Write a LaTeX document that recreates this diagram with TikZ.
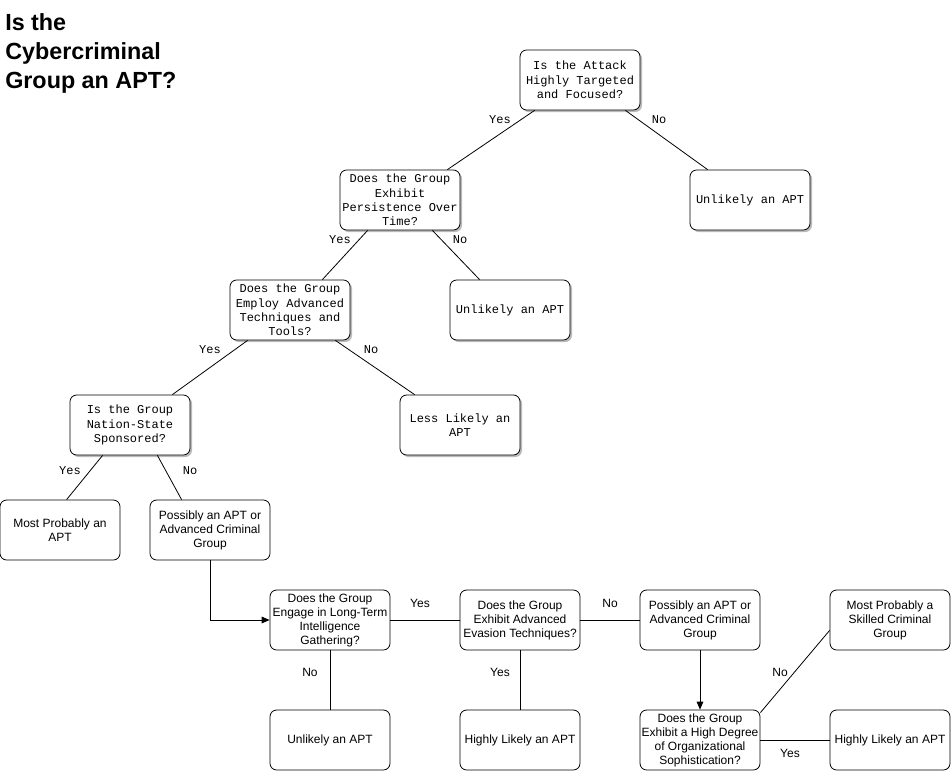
\documentclass[tikz,border=0pt]{standalone}
\usepackage{fontspec}
\setmainfont{Liberation Sans}
\newfontfamily\monof{Liberation Mono}
\usetikzlibrary{shadows,calc,arrows.meta}
\begin{document}
\begin{tikzpicture}[x=0.75pt,y=-0.75pt,
  base/.style={draw,rounded corners=5pt,minimum width=90pt,minimum height=45pt,align=center,fill=white,line width=0.6pt,inner sep=1pt},
  mbox/.style={base,drop shadow={shadow xshift=1.5pt,shadow yshift=-1.5pt,fill=black!45,opacity=0.6},font=\monof\fontsize{9}{10.8}\selectfont},
  sbox/.style={base,font=\fontsize{9}{10.5}\selectfont},
  ml/.style={font=\monof\fontsize{9}{10}\selectfont},
  sl/.style={font=\fontsize{9}{10}\selectfont},
  ln/.style={line width=0.6pt},
  arr/.style={-{Triangle[length=6pt,width=5pt]}}]
\useasboundingbox (0,0) rectangle (952,771);
\fill[white] (0,0) rectangle (952,771);
\node[anchor=north west,align=left,font=\fontsize{17.5}{22}\selectfont\bfseries,inner sep=0] (title) at (5,13) {Is the\\Cybercriminal\\Group an APT?};
\node[mbox] (A) at (580,80) {Is the Attack\\Highly Targeted\\and Focused?};
\node[mbox] (B) at (750,200) {Unlikely an APT};
\node[mbox] (C) at (400,200) {Does the Group\\Exhibit\\Persistence Over\\Time?};
\node[mbox] (D) at (510,310) {Unlikely an APT};
\node[mbox] (E) at (290,310) {Does the Group\\Employ Advanced\\Techniques and\\Tools?};
\node[mbox] (F) at (460,425) {Less Likely an\\APT};
\node[mbox] (G) at (130,425) {Is the Group\\Nation-State\\Sponsored?};
\node[sbox] (H) at (60,530) {Most Probably an\\APT};
\node[sbox] (I) at (210,530) {Possibly an APT or\\Advanced Criminal\\Group};
\node[sbox] (J) at (330,620) {Does the Group\\Engage in Long-Term\\Intelligence\\Gathering?};
\node[sbox] (K) at (520,620) {Does the Group\\Exhibit Advanced\\Evasion Techniques?};
\node[sbox] (L) at (700,620) {Possibly an APT or\\Advanced Criminal\\Group};
\node[sbox] (M) at (890,620) {Most Probably a\\Skilled Criminal\\Group};
\node[sbox] (N) at (330,740) {Unlikely an APT};
\node[sbox] (O) at (520,740) {Highly Likely an APT};
\node[sbox] (P) at (700,740) {Does the Group\\Exhibit a High Degree\\of Organizational\\Sophistication?};
\node[sbox] (Q) at (890,740) {Highly Likely an APT};
\draw[ln] ($(A.south west)+(15,0)$) -- ($(C.north east)+(-13,0)$);
\draw[ln] ($(A.south east)+(-15,0)$) -- ($(B.north west)+(18,0)$);
\draw[ln] ($(C.south west)+(28,0)$) -- ($(E.north east)+(-28,0)$);
\draw[ln] ($(C.south east)+(-28,0)$) -- ($(D.north west)+(30,0)$);
\draw[ln] ($(E.south west)+(18,0)$) -- ($(G.north east)+(-18,0)$);
\draw[ln] ($(E.south east)+(-15,0)$) -- ($(F.north west)+(15,0)$);
\draw[ln] ($(G.south west)+(33,0)$) -- ($(H.north west)+(67,0)$);
\draw[ln] ($(G.south east)+(-33,0)$) -- ($(I.north west)+(32,0)$);
\draw[ln,arr] (I.south) |- (J.west);
\draw[ln] (J.east) -- (K.west);
\draw[ln] (K.east) -- (L.west);
\draw[ln] (J.south) -- (N.north);
\draw[ln] (K.south) -- (O.north);
\draw[ln,arr] (L.south) -- (P.north);
\draw[ln] ($(P.north east)+(0,3)$) -- ($(M.south west)+(0,-20)$);
\draw[ln] (P.east) -- (Q.west);
\node[ml] (y1) at (500,120) {Yes};
\node[ml] (n1) at (659,120) {No};
\node[ml] (y2) at (340,240) {Yes};
\node[ml] (n2) at (460,240) {No};
\node[ml] (y3) at (210,350) {Yes};
\node[ml] (n3) at (371,350) {No};
\node[ml] (y4) at (70,471) {Yes};
\node[ml] (n4) at (190,471) {No};
\node[sl] (y5) at (420,603) {Yes};
\node[sl] (n5) at (610,603) {No};
\node[sl] (n6) at (310,672) {No};
\node[sl] (y6) at (500,672) {Yes};
\node[sl] (n7) at (780,672) {No};
\node[sl] (y7) at (790,753) {Yes};
\end{tikzpicture}
\end{document}
